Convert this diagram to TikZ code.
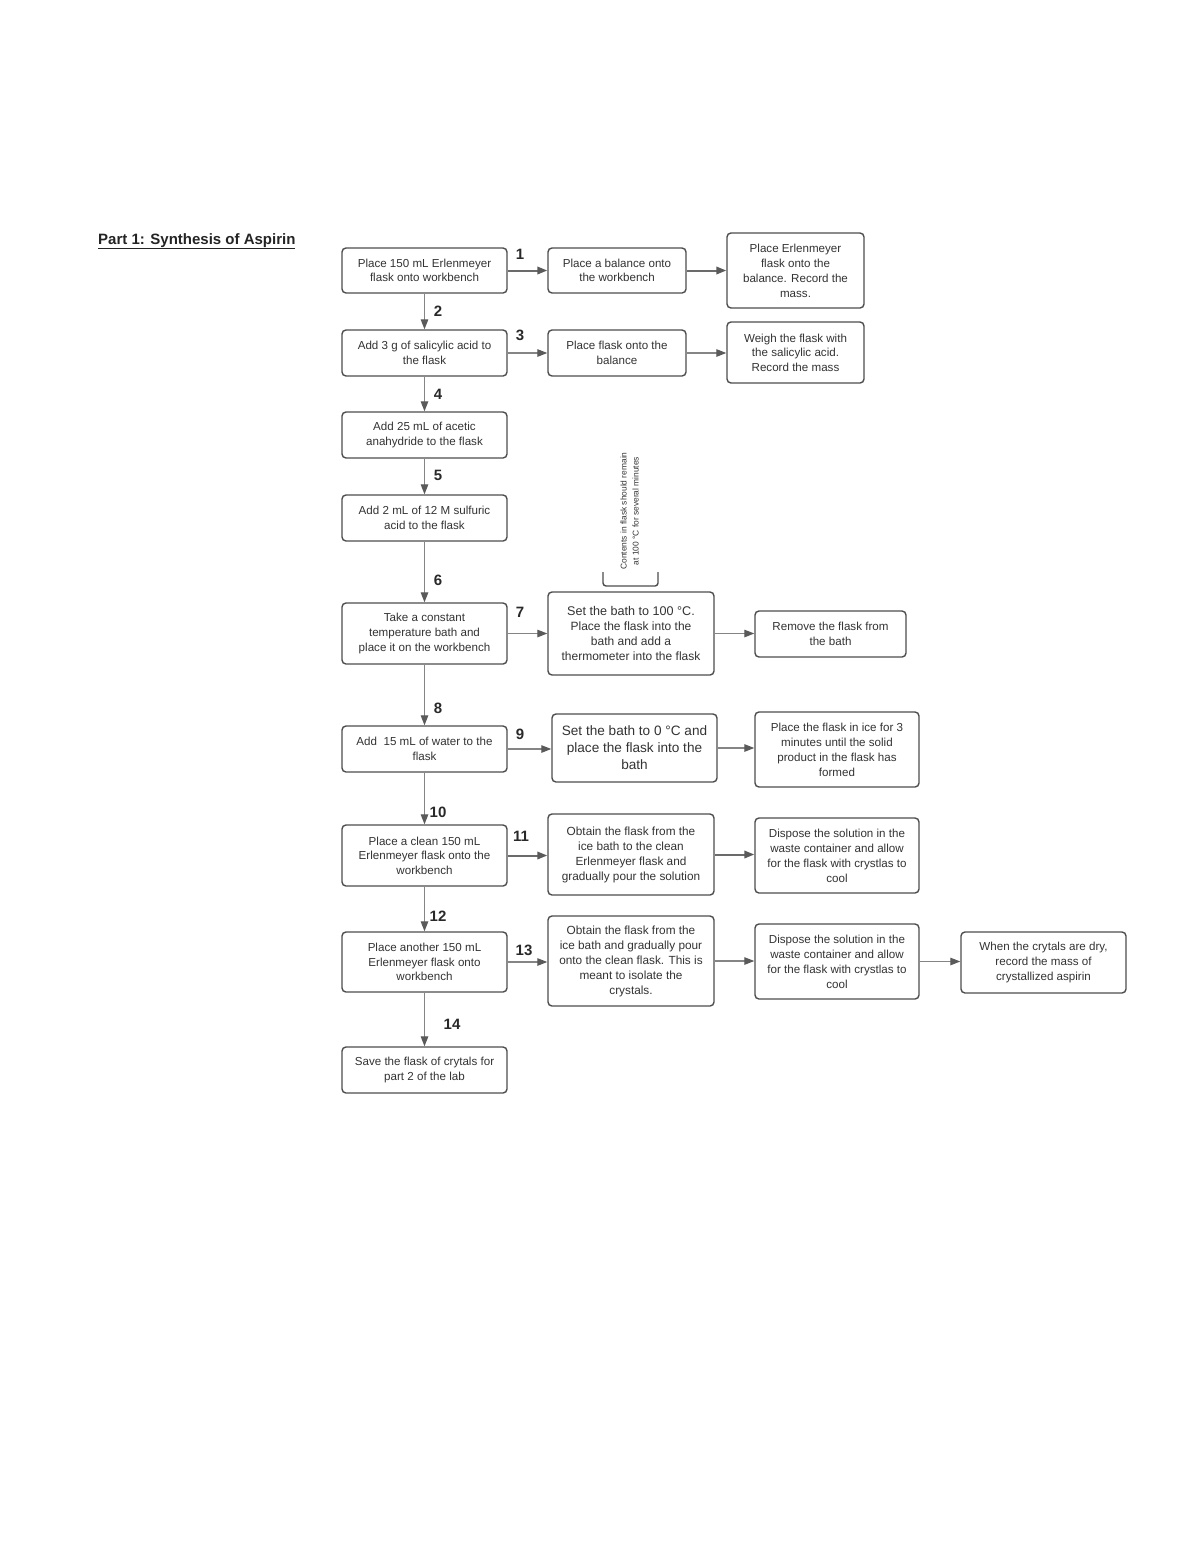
\documentclass[tikz,border=0pt]{standalone}
\usepackage{fontspec}
\setmainfont{Liberation Sans}
\usetikzlibrary{arrows.meta}
\definecolor{txt}{HTML}{333333}
\definecolor{boxline}{HTML}{4D4D4D}
\definecolor{arrline}{HTML}{858585}
\definecolor{arrhead}{HTML}{5A5A5A}
\tikzset{
  stepbox/.style={draw=boxline, line width=1.4pt, rounded corners=4pt, align=center,
    text=txt, inner sep=2pt, font=\fontsize{11.6}{14.6}\selectfont},
  arr/.style={draw=arrline, line width=1.2pt,
    -{Triangle[length=10pt,width=7.5pt,color=arrhead,fill=arrhead]}},
  thickarr/.style={arr, line width=2pt, draw=arrhead!90},
  numlab/.style={text=txt!80!black, font=\fontsize{15}{15}\bfseries\selectfont, inner sep=0pt},
}
\newcommand{\bx}[7]{% name, x1, y1, x2, y2, extra, text
  \node[stepbox, minimum width={#4-#2}, minimum height={#5-#3}, #6] (#1)
    at ({(#2+#4)/2},{(#3+#5)/2}) {#7};}
\begin{document}
\begin{tikzpicture}[x=1pt,y=-1pt]
\useasboundingbox (0,0) rectangle (1200,1553);
\fill[white] (0,0) rectangle (1200,1553);

\node[anchor=base west, text=txt!70!black, inner sep=0pt,
  font=\fontsize{15}{15}\bfseries\selectfont] (title) at (98,244)
  {\underline{Part 1: Synthesis of Aspirin}};

% column 1
\bx{b1}{342}{248}{507}{293}{}{Place 150 mL Erlenmeyer\\flask onto workbench}
\bx{b2}{342}{330}{507}{376}{}{Add 3 g of salicylic acid to\\the flask}
\bx{b4}{342}{412}{507}{458}{}{Add 25 mL of acetic\\anahydride to the flask}
\bx{b5}{342}{495}{507}{541}{}{Add 2 mL of 12 M sulfuric\\acid to the flask}
\bx{b6}{342}{603}{507}{664}{}{Take a constant\\temperature bath and\\place it on the workbench}
\bx{b8}{342}{726}{507}{772}{}{Add \ 15 mL of water to the\\flask}
\bx{b10}{342}{825}{507}{886}{}{Place a clean 150 mL\\Erlenmeyer flask onto the\\workbench}
\bx{b12}{342}{932}{507}{992}{}{Place another 150 mL\\Erlenmeyer flask onto\\workbench}
\bx{b14}{342}{1047}{507}{1093}{}{Save the flask of crytals for\\part 2 of the lab}

% column 2
\bx{r1b}{548}{248}{686}{293}{}{Place a balance onto\\the workbench}
\bx{r3b}{548}{330}{686}{376}{}{Place flask onto the\\balance}
\bx{r7b}{548}{592}{714}{675}{font=\fontsize{12}{15}\selectfont}{{\fontsize{12.6}{15}\selectfont Set the bath to 100 °C.}\\Place the flask into the\\bath and add a\\thermometer into the flask}
\bx{r9b}{552}{714}{717}{782}{font=\fontsize{13.6}{17}\selectfont}{Set the bath to 0 °C and\\place the flask into the\\bath}
\bx{r11b}{548}{814}{714}{895}{font=\fontsize{11.8}{15}\selectfont}{Obtain the flask from the\\ice bath to the clean\\Erlenmeyer flask and\\gradually pour the solution}
\bx{r13b}{548}{916}{714}{1006}{font=\fontsize{11.8}{15}\selectfont}{Obtain the flask from the\\ice bath and gradually pour\\onto the clean flask. This is\\meant to isolate the\\crystals.}

% column 3
\bx{r1c}{727}{233}{864}{308}{font=\fontsize{11.6}{15}\selectfont}{Place Erlenmeyer\\flask onto the\\balance. Record the\\mass.}
\bx{r3c}{727}{322}{864}{383}{}{Weigh the flask with\\the salicylic acid.\\Record the mass}
\bx{r7c}{755}{611}{906}{657}{}{Remove the flask from\\the bath}
\bx{r9c}{755}{712}{919}{787}{font=\fontsize{11.6}{15}\selectfont}{Place the flask in ice for 3\\minutes until the solid\\product in the flask has\\formed}
\bx{r11c}{755}{818}{919}{893}{font=\fontsize{11.6}{15}\selectfont}{Dispose the solution in the\\waste container and allow\\for the flask with crystlas to\\cool}
\bx{r13c}{755}{924}{919}{999}{font=\fontsize{11.6}{15}\selectfont}{Dispose the solution in the\\waste container and allow\\for the flask with crystlas to\\cool}

% column 4
\bx{r13d}{961}{932}{1126}{993}{}{When the crytals are dry,\\record the mass of\\crystallized aspirin}

% vertical connectors
\draw[arr] (b1.south) -- (b2.north);
\draw[arr] (b2.south) -- (b4.north);
\draw[arr] (b4.south) -- (b5.north);
\draw[arr] (b5.south) -- (b6.north);
\draw[arr] (b6.south) -- (b8.north);
\draw[arr] (b8.south) -- (b10.north);
\draw[arr] (b10.south) -- (b12.north);
\draw[arr] (b12.south) -- (b14.north);

% horizontal connectors
\draw[thickarr] (b1.east) -- (b1.east -| r1b.west);
\draw[thickarr] (r1b.east) -- (r1b.east -| r1c.west);
\draw[arr] (b2.east) -- (b2.east -| r3b.west);
\draw[arr] (r3b.east) -- (r3b.east -| r3c.west);
\draw[arr] (b6.east) -- (b6.east -| r7b.west);
\draw[arr] (r7b.east) -- (r7b.east -| r7c.west);
\draw[arr] (b8.east) -- (b8.east -| r9b.west);
\draw[arr] (r9b.east) -- (r9b.east -| r9c.west);
\draw[thickarr] (b10.east) -- (b10.east -| r11b.west);
\draw[thickarr] (r11b.east) -- (r11b.east -| r11c.west);
\draw[arr] (b12.east) -- (b12.east -| r13b.west);
\draw[arr] (r13b.east) -- (r13b.east -| r13c.west);
\draw[arr] (r13c.east) -- (r13c.east -| r13d.west);

% step numbers
\node[numlab] (n1) at (520,254) {1};
\node[numlab] (n2) at (438,311) {2};
\node[numlab] (n3) at (520,335) {3};
\node[numlab] (n4) at (438,394) {4};
\node[numlab] (n5) at (438,475) {5};
\node[numlab] (n6) at (438,580) {6};
\node[numlab] (n7) at (520,612) {7};
\node[numlab] (n8) at (438,708) {8};
\node[numlab] (n9) at (520,734) {9};
\node[numlab] (n10) at (438,812) {10};
\node[numlab] (n11) at (521,836) {11};
\node[numlab] (n12) at (438,916) {12};
\node[numlab] (n13) at (524,950) {13};
\node[numlab] (n14) at (452,1024) {14};

% rotated note and bracket
\node[rotate=90, align=center, text=txt, inner sep=0pt,
  font=\fontsize{8.4}{12}\selectfont] (note) at (629.5,511)
  {Contents in flask should remain\\at 100 °C for several minutes};
\coordinate (bra) at (603,572);
\coordinate (brb) at (658,572);
\draw[boxline, line width=1.4pt, rounded corners=3pt]
  (bra) -- ++(0,14) -| (brb);
\end{tikzpicture}
\end{document}
